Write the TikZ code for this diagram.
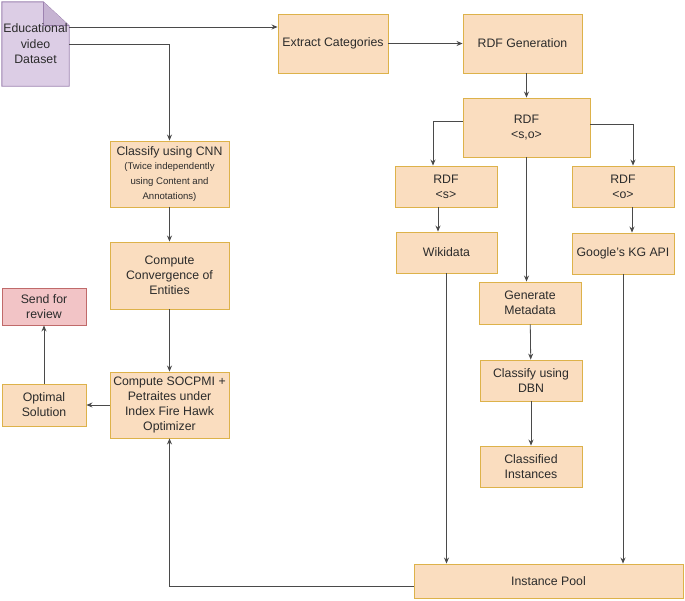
\documentclass[tikz,border=0pt]{standalone}
\usepackage{fontspec}
\setmainfont{Liberation Sans}
\usetikzlibrary{arrows.meta,positioning,backgrounds}
\definecolor{boxfill}{HTML}{FADDBF}
\definecolor{boxline}{HTML}{DDB24A}
\definecolor{docfill}{HTML}{DCCDE5}
\definecolor{docline}{HTML}{9D82B0}
\definecolor{redfill}{HTML}{F2C4C6}
\definecolor{redline}{HTML}{C06A6A}
\definecolor{txt}{HTML}{2B2B2B}
\definecolor{wire}{HTML}{4A4A4A}
\begin{document}
\begin{tikzpicture}[x=1pt,y=-1pt,
	box/.style={draw=boxline,fill=boxfill,line width=0.9pt,align=center,text=txt,inner sep=1pt,font=\fontsize{12.3}{15}\selectfont},
	sz/.style 2 args={minimum width=#1,minimum height=#2},
	redbox/.style={box,draw=redline,fill=redfill},
	doc/.style={align=center,text=txt,inner sep=0pt,font=\fontsize{12.3}{15.5}\selectfont},
	arr/.style={draw=wire,line width=0.8pt,-{Stealth[length=6pt,width=5pt]}}]
	\useasboundingbox (0,0) rectangle (685,600);
	\node[doc,sz={67pt}{84pt}] (data) at (35.5,44) {Educational\\video\\Dataset};
	\begin{scope}[on background layer]
		\draw[docline,fill=docfill,line width=0.9pt] (data.south west) -- (data.north west) -- ([xshift=-26pt]data.north east) -- ([yshift=-24pt]data.north east) -- (data.south east) -- cycle;
		\draw[docline,fill=docline!35!docfill,line width=0.7pt] ([xshift=-26pt]data.north east) -- ([xshift=-26pt,yshift=-24pt]data.north east) -- ([yshift=-24pt]data.north east);
	\end{scope}
	\node[box,sz={110pt}{59pt}] (extract) at (333,43.5) {Extract Categories};
	\node[box,sz={119pt}{59pt}] (rdfgen) at (522.5,43.5) {RDF Generation};
	\node[box,sz={127pt}{59pt}] (rdfso) at (526.5,127.5) {RDF\\<s,o>};
	\node[box,sz={102pt}{41pt}] (rdfs) at (446,186.5) {RDF\\<s>};
	\node[box,sz={102pt}{41pt}] (rdfo) at (623,186.5) {RDF\\<o>};
	\node[box,sz={101pt}{41pt}] (wiki) at (446.5,252.5) {Wikidata};
	\node[box,sz={102pt}{41pt}] (google) at (623,253.5) {Google's KG API};
	\node[box,sz={102pt}{42pt}] (meta) at (530,303) {Generate\\Metadata};
	\node[box,sz={102pt}{41pt}] (dbn) at (531,380.5) {Classify using\\DBN};
	\node[box,sz={102pt}{41pt}] (classed) at (531,466.5) {Classified\\Instances};
	\node[box,sz={269pt}{34pt}] (pool) at (548.5,581) {Instance Pool};
	\node[box,sz={119pt}{66pt}] (cnn) at (169.5,174) {Classify using CNN\\[-1pt]{\fontsize{9.6}{15}\selectfont(Twice independently}\\{\fontsize{9.6}{15}\selectfont using Content and}\\{\fontsize{9.6}{15}\selectfont Annotations)}};
	\node[box,sz={119pt}{67pt}] (conv) at (169.5,275.5) {Compute\\Convergence of\\Entities};
	\node[box,sz={119pt}{66pt},font=\fontsize{12.3}{14.7}\selectfont] (socpmi) at (169.5,405) {Compute SOCPMI +\\Petraites under\\Index Fire Hawk\\Optimizer};
	\node[box,sz={84pt}{42pt}] (optimal) at (44,405) {Optimal\\Solution};
	\node[redbox,sz={84pt}{37pt}] (review) at (44,306.5) {Send for\\review};
	\draw[arr] ([yshift=17pt]data.east) -- ([yshift=17pt]data.east -| extract.west);
	\draw[arr] (data.east) -| (cnn.north);
	\draw[arr] (extract) -- (rdfgen);
	\draw[arr] (rdfgen.south -| rdfso.north) -- (rdfso.north);
	\draw[arr] ([yshift=6.5pt]rdfso.west) -| ([xshift=-13pt]rdfs.north);
	\draw[arr] ([yshift=3.5pt]rdfso.east) -| ([xshift=10pt]rdfo.north);
	\draw[arr] (rdfso.south) -- (rdfso.south |- meta.north);
	\draw[arr] ([xshift=-8pt]rdfs.south) -- ([xshift=-8pt]rdfs.south |- wiki.north);
	\draw[arr] ([xshift=9pt]rdfo.south) -- ([xshift=9pt]rdfo.south |- google.north);
	\draw[arr] (wiki.south) -- (wiki.south |- pool.north);
	\draw[arr] (google.south) -- (google.south |- pool.north);
	\draw[arr] (meta) -- (dbn);
	\draw[arr] (dbn) -- (classed);
	\draw[arr] ([yshift=-5pt]pool.west) -| (socpmi.south);
	\draw[arr] (cnn) -- (conv);
	\draw[arr] (conv) -- (socpmi);
	\draw[arr] (socpmi) -- (optimal);
	\draw[arr] (optimal) -- (review);
\end{tikzpicture}
\end{document}
